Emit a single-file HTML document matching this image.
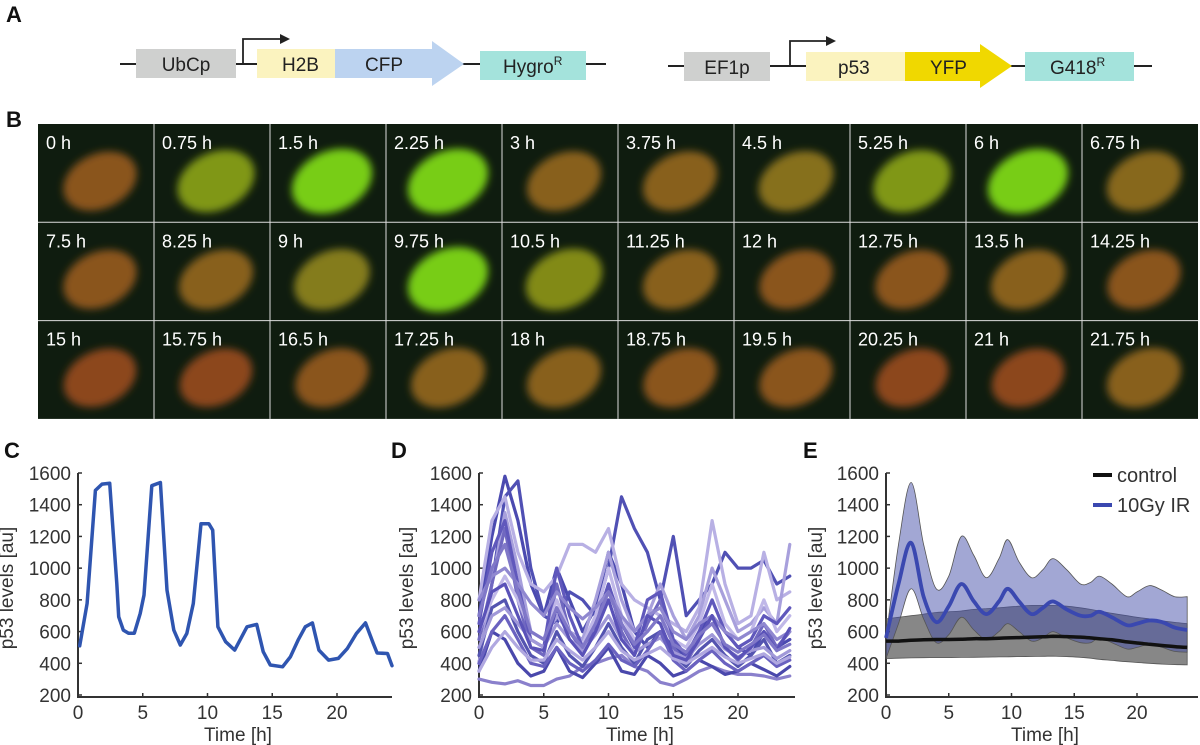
<!DOCTYPE html>
<html><head><meta charset="utf-8"><style>
html,body{margin:0;padding:0;background:#fff;}
svg{display:block;font-family:"Liberation Sans",Arial,sans-serif;}
</style></head><body>
<svg id="fig" width="1200" height="745" viewBox="0 0 1200 745" xmlns="http://www.w3.org/2000/svg">
<defs>
<filter id="blur" x="-30%" y="-30%" width="160%" height="160%"><feGaussianBlur stdDeviation="4"/></filter>
</defs>
<g font-weight="bold" font-size="22" fill="#111">
<text x="6" y="22">A</text>
<text x="6" y="127">B</text>
<text x="4" y="458">C</text>
<text x="391" y="458">D</text>
<text x="803" y="458">E</text>
</g>
<g font-size="19" fill="#222">
<line x1="120" y1="64" x2="606" y2="64" stroke="#222" stroke-width="2"/>
<rect x="136" y="49" width="100" height="29" fill="#cfd0cf"/>
<text x="186" y="71" text-anchor="middle">UbCp</text>
<path d="M243 64 V39 H282" fill="none" stroke="#222" stroke-width="1.8"/>
<path d="M280 34 L290 39 L280 44 Z" fill="#222"/>
<rect x="257" y="49" width="78" height="29" fill="#fbf3bf"/>
<text x="282" y="71">H2B</text>
<path d="M335 49 H432 V41 L464 64 L432 86 V78 H335 Z" fill="#bcd3f0"/>
<text x="365" y="71">CFP</text>
<rect x="480" y="51" width="106" height="29" fill="#a4e3dc"/>
<text x="503" y="73">Hygro<tspan font-size="12" dy="-8">R</tspan></text>
</g>
<g font-size="19" fill="#222">
<line x1="668" y1="66" x2="1152" y2="66" stroke="#222" stroke-width="2"/>
<rect x="684" y="52" width="86" height="29" fill="#cfd0cf"/>
<text x="727" y="74" text-anchor="middle">EF1p</text>
<path d="M790 66 V41 H828" fill="none" stroke="#222" stroke-width="1.8"/>
<path d="M826 36 L836 41 L826 46 Z" fill="#222"/>
<rect x="806" y="52" width="99" height="29" fill="#fbf3bf"/>
<text x="838" y="74">p53</text>
<path d="M905 52 H980 V44 L1012 66 L980 88 V81 H905 Z" fill="#f0d800"/>
<text x="930" y="74">YFP</text>
<rect x="1025" y="52" width="109" height="29" fill="#a4e3dc"/>
<text x="1050" y="74">G418<tspan font-size="12" dy="-8">R</tspan></text>
</g>
<g id="panelB"></g>
<g id="panelC"></g>
<g id="panelD"></g>
<g id="panelE"></g>
</svg>
<script>
const timeLabels = ["0 h","0.75 h","1.5 h","2.25 h","3 h","3.75 h","4.5 h","5.25 h","6 h","6.75 h",
"7.5 h","8.25 h","9 h","9.75 h","10.5 h","11.25 h","12 h","12.75 h","13.5 h","14.25 h",
"15 h","15.75 h","16.5 h","17.25 h","18 h","18.75 h","19.5 h","20.25 h","21 h","21.75 h"];
const greenLevel = [0.1,0.6,1,1,0.2,0.2,0.3,0.6,1,0.25, 0.1,0.2,0.4,1,0.5,0.2,0.1,0.1,0.2,0.1, 0,0,0.1,0.2,0.2,0.1,0.1,0,0,0.2];

const cTimes = [0.13,0.7,1.34,1.85,2.45,3.0,3.14,3.5,3.9,4.35,4.8,5.1,5.7,6.36,6.87,7.4,7.9,8.4,8.9,9.5,10.1,10.4,10.8,11.4,12.1,13.05,13.8,14.3,14.85,15.8,16.4,17.0,17.55,18.1,18.6,19.35,20.1,20.8,21.5,22.2,22.8,23.1,23.9,24.25];
const cValues = [510,777,1490,1530,1535,903,693,609,590,590,714,830,1520,1540,861,609,515,588,777,1280,1280,1240,630,536,483,630,645,473,389,378,441,546,630,655,483,420,431,494,588,655,525,465,462,385];

const dTimes = [0,1,2,3,4,5,6,7,8,9,10,11,12,13,14,15,16,17,18,19,20,21,22,23,24];
const dTraces = [
[700,1200,1580,1300,900,700,1000,800,600,750,1100,900,600,500,600,500,450,600,700,600,500,450,600,500,550],
[400,900,1450,1550,1000,700,650,850,800,700,1000,1450,1250,1100,800,1200,700,800,900,1100,1000,1000,1050,900,950],
[800,1300,1450,1100,900,850,950,1150,1150,1100,1250,900,800,750,700,650,600,750,1300,900,650,700,1100,800,850],
[400,900,1350,1000,600,550,700,600,550,800,1100,800,600,700,900,700,550,700,1000,800,600,650,750,650,1150],
[300,280,270,290,260,260,300,320,380,400,430,450,380,350,280,260,300,350,380,350,330,330,320,300,320],
[550,900,1250,800,500,450,900,600,480,650,900,600,450,650,800,500,400,550,700,500,420,500,650,500,600],
[350,600,550,400,320,350,500,350,310,400,500,350,330,450,400,320,350,420,380,330,350,400,360,320,380],
[600,800,950,800,600,550,800,600,520,700,1000,700,550,600,700,550,500,650,900,650,550,600,800,600,700],
[650,1100,1300,900,550,500,1000,700,500,600,900,650,500,800,850,550,450,600,800,600,500,550,700,650,750],
[450,750,800,600,450,400,600,450,380,500,650,500,400,550,600,450,380,480,550,450,380,450,550,400,450],
[500,700,750,650,550,500,650,550,480,580,700,550,470,520,560,470,430,520,580,490,440,480,500,430,480],
[800,950,1000,900,780,700,850,750,680,750,850,700,600,700,750,600,550,650,700,600,550,600,650,550,600],
[400,600,700,550,400,380,500,400,350,420,520,420,380,480,600,420,350,420,480,400,350,400,450,380,420],
[350,500,600,500,420,420,550,480,420,500,600,480,420,460,500,430,400,450,500,440,400,430,460,400,440],
[600,850,900,700,500,480,750,550,450,600,800,550,450,700,650,450,420,550,700,500,430,500,600,480,620],
[700,1000,1150,850,600,550,750,600,500,650,850,650,520,600,700,520,470,580,650,520,470,520,580,480,520]
];
const dColors = ["#4b4ab0","#5050b4","#b8b0e4","#a8a0dc","#8a80cc","#7068c0","#4a48ac","#c0b8e8","#6058bc","#5454b0","#a098d8","#9088d0","#6a62c0","#b0a8e0","#5a52b8","#8078c8"];

const eTimes = [0,1,2,3,4,5,6,7,8,9,9.7,10.6,11.6,12.5,13.3,14.4,15.5,16.3,17,18,19.2,20,21,22,23,24];
const eIrMean = [560,900,1160,820,660,760,900,790,710,790,870,790,710,750,790,740,700,700,725,690,640,650,670,660,625,610];
const eIrUpper = [560,1150,1540,1150,870,950,1200,1080,940,1060,1180,1040,940,990,1060,990,900,910,950,900,820,850,890,860,820,820];
const eIrLower = [430,650,870,680,530,580,690,610,550,600,650,600,540,560,600,560,530,530,560,530,490,500,520,500,475,470];
const eCtrlMean = [540,540,545,548,550,550,552,555,555,558,560,562,565,567,570,568,565,560,555,548,535,528,520,512,505,500];
const eCtrlUpper = [680,690,700,710,720,725,730,740,745,750,755,760,765,765,765,760,750,740,730,715,700,690,680,668,658,650];
const eCtrlLower = [430,432,434,435,436,436,437,438,439,440,441,442,443,444,445,442,438,432,425,418,410,405,400,395,392,390];

const yTicks = [200,400,600,800,1000,1200,1400,1600];
const xTicks = [0,5,10,15,20];

const NS = "http://www.w3.org/2000/svg";
function mk(tag, attrs, parent){
  const e = document.createElementNS(NS, tag);
  for (const k in attrs) e.setAttribute(k, attrs[k]);
  parent.appendChild(e);
  return e;
}
const Y_TOP = 473, Y_BOT = 695;
function yScale(v){ return Y_BOT - (v - 200) / 1400 * (Y_BOT - Y_TOP); }
function linePath(xs, ys){
  return xs.map((x,i)=>(i?"L":"M")+x.toFixed(1)+" "+ys[i].toFixed(1)).join(" ");
}
function smoothPath(xs, ys, start){
  let d = (start?"M":"L")+xs[0].toFixed(1)+" "+ys[0].toFixed(1);
  for (let i=0;i<xs.length-1;i++){
    const x0=xs[Math.max(0,i-1)], y0=ys[Math.max(0,i-1)];
    const x1=xs[i], y1=ys[i], x2=xs[i+1], y2=ys[i+1];
    const x3=xs[Math.min(xs.length-1,i+2)], y3=ys[Math.min(xs.length-1,i+2)];
    const c1x=x1+(x2-x0)/6, c1y=y1+(y2-y0)/6, c2x=x2-(x3-x1)/6, c2y=y2-(y3-y1)/6;
    d += " C"+c1x.toFixed(1)+" "+c1y.toFixed(1)+" "+c2x.toFixed(1)+" "+c2y.toFixed(1)+" "+x2.toFixed(1)+" "+y2.toFixed(1);
  }
  return d;
}

function drawAxes(g, x0, k, xEnd, labelX){
  const xs = t => x0 + t * k;
  const ax = mk("path", {d:"M"+x0+" "+Y_TOP+" V"+(Y_BOT+2)+" H"+xEnd, fill:"none", stroke:"#333", "stroke-width":2}, g);
  
  
  yTicks.forEach(v=>{
    const y = yScale(v);
    mk("line",{x1:x0,y1:y,x2:x0+4,y2:y,stroke:"#333","stroke-width":1.5},g);
    const t = mk("text",{x:x0-7,y:y+7,"text-anchor":"end","font-size":19,fill:"#333"},g);
    t.textContent = v;
    
    
  });
  xTicks.forEach(v=>{
    const x = xs(v);
    mk("line",{x1:x,y1:Y_BOT+2,x2:x,y2:Y_BOT-2,stroke:"#333","stroke-width":1.5},g);
    const t = mk("text",{x:x,y:719,"text-anchor":"middle","font-size":19,fill:"#333"},g);
    t.textContent = v;
    
    
  });
  const xt = mk("text",{x:(x0+xEnd)/2+3,y:741,"text-anchor":"middle","font-size":19,fill:"#333"},g);
  xt.textContent = "Time [h]";
  
  
  const yt = mk("text",{x:0,y:0,"text-anchor":"middle","font-size":19,fill:"#333",transform:"translate("+labelX+","+((Y_TOP+Y_BOT)/2+4)+") rotate(-90)"},g);
  yt.textContent = "p53 levels [au]";
  
  
  return xs;
}

(function(){
  const g = document.getElementById("panelB");
  const X0=38, Y0=124, W=116, H=98.3;
  mk("rect",{x:X0,y:Y0,width:W*10,height:H*3,fill:"#0f1c0f"},g);
  timeLabels.forEach((lab,i)=>{
    const c=i%10, r=Math.floor(i/10);
    const x=X0+c*W, y=Y0+r*H;
    const cell = mk("g",{},g);
    
    
    const gl = greenLevel[i];
    const R = Math.round(140*(1-gl)+120*gl), G = Math.round(70*(1-gl)+205*gl), B = Math.round(30*(1-gl)+20*gl);
    mk("ellipse",{cx:x+W/2+4,cy:y+H/2+8,rx:38+gl*4,ry:27+gl*3,fill:"rgb("+R+","+G+","+B+")",filter:"url(#blur)",transform:"rotate(-25 "+(x+W/2+4)+" "+(y+H/2+8)+")"},cell);
    const t = mk("text",{x:x+8,y:y+25,"font-size":18,fill:"#fff"},cell);
    t.textContent = lab;
  });
  for (let c=1;c<10;c++) mk("line",{x1:X0+c*W,y1:Y0,x2:X0+c*W,y2:Y0+H*3,stroke:"#ddd","stroke-width":1},g);
  for (let r=1;r<3;r++) mk("line",{x1:X0,y1:Y0+r*H,x2:X0+W*10,y2:Y0+r*H,stroke:"#ddd","stroke-width":1},g);
})();

(function(){
  const g = document.getElementById("panelC");
  const xs = drawAxes(g, 78, 12.95, 392, 13);
  const p = mk("path",{d:linePath(cTimes.map(xs), cValues.map(yScale)),fill:"none",stroke:"#2f55b0","stroke-width":3.5,"stroke-linejoin":"round","stroke-linecap":"round"},g);
  
  
})();

(function(){
  const g = document.getElementById("panelD");
  const xs = drawAxes(g, 479, 12.95, 795, 413);
  dTraces.forEach((tr,i)=>{
    const p = mk("path",{d:linePath(dTimes.map(xs), tr.map(yScale)),fill:"none",stroke:dColors[i%dColors.length],"stroke-width":3.2,"stroke-linejoin":"round","stroke-linecap":"round"},g);
    
    
  });
})();

(function(){
  const g = document.getElementById("panelE");
  const xs = drawAxes(g, 886, 12.55, 1198, 822);
  const X = eTimes.map(xs);
  const rev = a => a.slice().reverse();
  function band(up, lo, fill, name){
    const d = smoothPath(X, up.map(yScale), true) + " " + smoothPath(rev(X), rev(lo).map(yScale), false) + " Z";
    const p = mk("path",{d:d,fill:fill,stroke:"#555","stroke-width":0.8},g);
    
    
  }
  band(eCtrlUpper, eCtrlLower, "rgba(70,70,70,0.65)", "control-band");
  band(eIrUpper, eIrLower, "rgba(70,80,170,0.5)", "ir-band");
  const cm = mk("path",{d:smoothPath(X, eCtrlMean.map(yScale), true),fill:"none",stroke:"#111","stroke-width":3.5},g);
  
  
  const im = mk("path",{d:smoothPath(X, eIrMean.map(yScale), true),fill:"none",stroke:"#3a48b0","stroke-width":3.8},g);
  
  
  const lg = mk("g",{},g);
  
  
  mk("line",{x1:1093,y1:475,x2:1112,y2:475,stroke:"#111","stroke-width":4},lg);
  const t1 = mk("text",{x:1117,y:482,"font-size":20,fill:"#333"},lg); t1.textContent="control";
  mk("line",{x1:1093,y1:505,x2:1112,y2:505,stroke:"#3a48b0","stroke-width":4},lg);
  const t2 = mk("text",{x:1117,y:512,"font-size":20,fill:"#333"},lg); t2.textContent="10Gy IR";
})();
</script>
</body></html>
